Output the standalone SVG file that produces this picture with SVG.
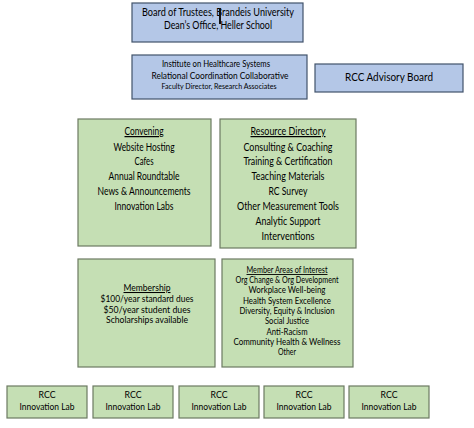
<svg xmlns="http://www.w3.org/2000/svg" width="474" height="428" viewBox="0 0 474 428">
<style>
.blue{fill:#b4c7e7;stroke:#42536b;stroke-width:1.2}
.green{fill:#c5dfb4;stroke:#6c7a62;stroke-width:1.2}
text{font-family:Lato,"Open Sans","Liberation Sans",sans-serif;fill:#000;text-anchor:middle}
.u{text-decoration:underline}
.c{font-size:12.3px}
.m{font-size:10.4px}
.a{font-size:9px}
.l{font-size:9.6px}
</style>
<rect width="474" height="428" fill="#fff"/>
<g id="board">
<rect class="blue" x="132" y="3" width="171" height="39"/>
<text x="218" y="16" font-size="11" textLength="152" lengthAdjust="spacingAndGlyphs">Board of Trustees, Brandeis University</text>
<text x="218" y="29" font-size="11" textLength="108" lengthAdjust="spacingAndGlyphs">Dean’s Office, Heller School</text>
<line x1="220" y1="8" x2="220" y2="24" stroke="#111" stroke-width="2"/>
</g>
<g id="institute">
<rect class="blue" x="132" y="55" width="175" height="44"/>
<text x="216" y="67" font-size="10" textLength="108" lengthAdjust="spacingAndGlyphs">Institute on Healthcare Systems</text>
<text x="220" y="79" font-size="10" textLength="137" lengthAdjust="spacingAndGlyphs">Relational Coordination Collaborative</text>
<text x="219" y="88.5" font-size="8" textLength="115" lengthAdjust="spacingAndGlyphs">Faculty Director, Research Associates</text>
</g>
<g id="advisory">
<rect class="blue" x="315" y="64" width="148" height="28"/>
<text x="389" y="81" font-size="11.5" textLength="88" lengthAdjust="spacingAndGlyphs">RCC Advisory Board</text>
</g>
<g id="convening">
<rect class="green" x="78" y="119" width="133" height="127"/>
<text x="144" y="135" class="c u" textLength="39" lengthAdjust="spacingAndGlyphs">Convening</text>
<text x="144" y="151" class="c" textLength="61" lengthAdjust="spacingAndGlyphs">Website Hosting</text>
<text x="144" y="165" class="c" textLength="19" lengthAdjust="spacingAndGlyphs">Cafes</text>
<text x="144" y="180" class="c" textLength="71" lengthAdjust="spacingAndGlyphs">Annual Roundtable</text>
<text x="144" y="195" class="c" textLength="93" lengthAdjust="spacingAndGlyphs">News &amp; Announcements</text>
<text x="144" y="210" class="c" textLength="59" lengthAdjust="spacingAndGlyphs">Innovation Labs</text>
</g>
<g id="resource">
<rect class="green" x="220" y="119" width="136" height="129"/>
<text x="288" y="135" class="c u" textLength="75" lengthAdjust="spacingAndGlyphs">Resource Directory</text>
<text x="288" y="151" class="c" textLength="89" lengthAdjust="spacingAndGlyphs">Consulting &amp; Coaching</text>
<text x="288" y="165" class="c" textLength="89" lengthAdjust="spacingAndGlyphs">Training &amp; Certification</text>
<text x="288" y="180" class="c" textLength="73" lengthAdjust="spacingAndGlyphs">Teaching Materials</text>
<text x="288" y="195" class="c" textLength="39" lengthAdjust="spacingAndGlyphs">RC Survey</text>
<text x="288" y="210" class="c" textLength="102" lengthAdjust="spacingAndGlyphs">Other Measurement Tools</text>
<text x="288" y="225" class="c" textLength="65" lengthAdjust="spacingAndGlyphs">Analytic Support</text>
<text x="288" y="240" class="c" textLength="53" lengthAdjust="spacingAndGlyphs">Interventions</text>
</g>
<g id="membership">
<rect class="green" x="78" y="259" width="137" height="108"/>
<text x="147" y="291" class="m u" textLength="47" lengthAdjust="spacingAndGlyphs">Membership</text>
<text x="147" y="302" class="m" textLength="93" lengthAdjust="spacingAndGlyphs">$100/year standard dues</text>
<text x="147" y="312.5" class="m" textLength="87" lengthAdjust="spacingAndGlyphs">$50/year student dues</text>
<text x="147" y="323" class="m" textLength="82" lengthAdjust="spacingAndGlyphs">Scholarships available</text>
</g>
<g id="areas">
<rect class="green" x="222" y="259" width="131" height="108"/>
<text x="287" y="273" class="a u" textLength="81" lengthAdjust="spacingAndGlyphs">Member Areas of Interest</text>
<text x="287" y="283" class="a" textLength="103" lengthAdjust="spacingAndGlyphs">Org Change &amp; Org Development</text>
<text x="287" y="293" class="a" textLength="77" lengthAdjust="spacingAndGlyphs">Workplace Well-being</text>
<text x="287" y="303.5" class="a" textLength="88" lengthAdjust="spacingAndGlyphs">Health System Excellence</text>
<text x="287" y="314" class="a" textLength="95" lengthAdjust="spacingAndGlyphs">Diversity, Equity &amp; Inclusion</text>
<text x="287" y="324" class="a" textLength="44" lengthAdjust="spacingAndGlyphs">Social Justice</text>
<text x="287" y="334.5" class="a" textLength="41" lengthAdjust="spacingAndGlyphs">Anti-Racism</text>
<text x="287" y="345" class="a" textLength="107" lengthAdjust="spacingAndGlyphs">Community Health &amp; Wellness</text>
<text x="287" y="355" class="a" textLength="18" lengthAdjust="spacingAndGlyphs">Other</text>
</g>
<g id="lab1">
<rect class="green" x="7" y="386" width="80" height="32"/>
<text x="47" y="398" class="l" textLength="17" lengthAdjust="spacingAndGlyphs">RCC</text>
<text x="47" y="410" class="l" textLength="55" lengthAdjust="spacingAndGlyphs">Innovation Lab</text>
</g>
<g id="lab2">
<rect class="green" x="93" y="386" width="80" height="32"/>
<text x="133" y="398" class="l" textLength="17" lengthAdjust="spacingAndGlyphs">RCC</text>
<text x="133" y="410" class="l" textLength="55" lengthAdjust="spacingAndGlyphs">Innovation Lab</text>
</g>
<g id="lab3">
<rect class="green" x="179" y="386" width="80" height="32"/>
<text x="219" y="398" class="l" textLength="17" lengthAdjust="spacingAndGlyphs">RCC</text>
<text x="219" y="410" class="l" textLength="55" lengthAdjust="spacingAndGlyphs">Innovation Lab</text>
</g>
<g id="lab4">
<rect class="green" x="264" y="386" width="80" height="32"/>
<text x="304" y="398" class="l" textLength="17" lengthAdjust="spacingAndGlyphs">RCC</text>
<text x="304" y="410" class="l" textLength="55" lengthAdjust="spacingAndGlyphs">Innovation Lab</text>
</g>
<g id="lab5">
<rect class="green" x="349" y="386" width="80" height="32"/>
<text x="389" y="398" class="l" textLength="17" lengthAdjust="spacingAndGlyphs">RCC</text>
<text x="389" y="410" class="l" textLength="55" lengthAdjust="spacingAndGlyphs">Innovation Lab</text>
</g>
<g id="connectors"></g>
</svg>
